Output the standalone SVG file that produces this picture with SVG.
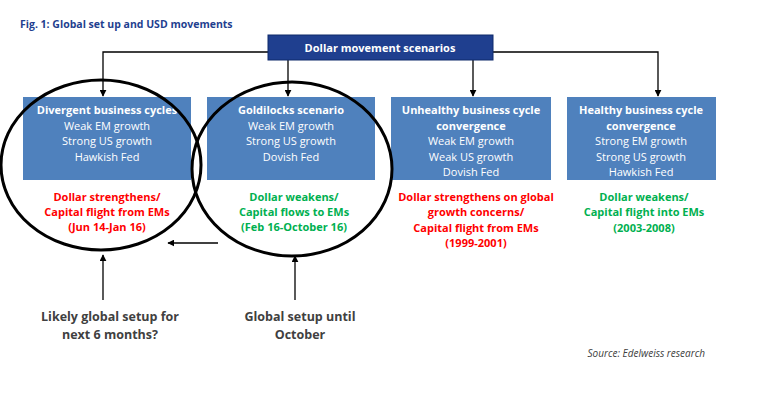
<svg xmlns="http://www.w3.org/2000/svg" width="758" height="416" viewBox="0 0 758 416">
<defs>
<marker id="ah" viewBox="0 0 10 10" refX="9" refY="5" markerWidth="7" markerHeight="7" markerUnits="userSpaceOnUse" orient="auto"><path d="M0,0 L10,5 L0,10 z" fill="#000"/></marker>
<style>
text{font-family:"Open Sans","Liberation Sans",sans-serif;text-anchor:middle;font-size:11px}
.box{fill:#4f81bd}
.wt{fill:#fff}
.b{font-weight:bold}
.red{fill:#ff0000;font-weight:bold}
.grn{fill:#00b050;font-weight:bold}
.gry{fill:#404040;font-weight:bold;font-size:12.5px}
.ln{stroke:#000;stroke-width:1.3;fill:none}
.ell{stroke:#000;stroke-width:3;fill:none}
</style>
</defs>
<rect width="758" height="416" fill="#fff"/>
<text x="20" y="28" style="text-anchor:start;font-weight:bold;fill:#1f3f8f;font-size:10.5px">Fig. 1: Global set up and USD movements</text>
<g id="connectors">
<path class="ln" d="M268,52 H103 V96" marker-end="url(#ah)"/>
<path class="ln" d="M288,60 V96" marker-end="url(#ah)"/>
<path class="ln" d="M473,60 V96" marker-end="url(#ah)"/>
<path class="ln" d="M493,52 H658 V96" marker-end="url(#ah)"/>
<path class="ln" d="M218,243 H168" marker-end="url(#ah)"/>
<path class="ln" d="M103,300 V255" marker-end="url(#ah)"/>
<path class="ln" d="M295,300 V256" marker-end="url(#ah)"/>
</g>
<g id="header">
<rect x="268" y="35" width="225" height="25" fill="#1f3f8f" stroke="#0f2a6a"/>
<text x="380" y="52" class="wt b">Dollar movement scenarios</text>
</g>
<g id="n1">
<rect class="box" x="23" y="97" width="168" height="83"/>
<text x="107" y="114" class="wt b">Divergent business cycles</text>
<text x="107" y="130" class="wt">Weak EM growth</text>
<text x="107" y="145" class="wt">Strong US growth</text>
<text x="107" y="161" class="wt">Hawkish Fed</text>
<text x="107" y="201" class="red">Dollar strengthens/</text>
<text x="107" y="216" class="red">Capital flight from EMs</text>
<text x="107" y="231" class="red">(Jun 14-Jan 16)</text>
</g>
<g id="n2">
<rect class="box" x="207" y="97" width="168" height="83"/>
<text x="291" y="114" class="wt b">Goldilocks scenario</text>
<text x="291" y="130" class="wt">Weak EM growth</text>
<text x="291" y="145" class="wt">Strong US growth</text>
<text x="291" y="161" class="wt">Dovish Fed</text>
<text x="294" y="201" class="grn">Dollar weakens/</text>
<text x="294" y="216" class="grn">Capital flows to EMs</text>
<text x="294" y="231" class="grn">(Feb 16-October 16)</text>
</g>
<g id="n3">
<rect class="box" x="391" y="97" width="160" height="83"/>
<text x="471" y="114" class="wt b">Unhealthy business cycle</text>
<text x="471" y="130" class="wt b">convergence</text>
<text x="471" y="145" class="wt">Weak EM growth</text>
<text x="471" y="161" class="wt">Weak US growth</text>
<text x="471" y="176" class="wt">Dovish Fed</text>
<text x="476" y="201" class="red">Dollar strengthens on global</text>
<text x="476" y="216" class="red">growth concerns/</text>
<text x="476" y="232" class="red">Capital flight from EMs</text>
<text x="476" y="247" class="red">(1999-2001)</text>
</g>
<g id="n4">
<rect class="box" x="567" y="97" width="149" height="83"/>
<text x="641" y="114" class="wt b">Healthy business cycle</text>
<text x="641" y="130" class="wt b">convergence</text>
<text x="641" y="145" class="wt">Strong EM growth</text>
<text x="641" y="161" class="wt">Strong US growth</text>
<text x="641" y="176" class="wt">Hawkish Fed</text>
<text x="644" y="201" class="grn">Dollar weakens/</text>
<text x="644" y="216" class="grn">Capital flight into EMs</text>
<text x="644" y="232" class="grn">(2003-2008)</text>
</g>
<g id="circles">
<ellipse class="ell" cx="101" cy="165" rx="100" ry="85"/>
<ellipse class="ell" cx="292" cy="169" rx="100" ry="87"/>
</g>
<g id="labels">
<text x="110" y="321" class="gry">Likely global setup for</text>
<text x="110" y="339" class="gry">next 6 months?</text>
<text x="300" y="321" class="gry">Global setup until</text>
<text x="300" y="339" class="gry">October</text>
<text x="705" y="357" style="text-anchor:end;font-style:italic;font-size:10px;fill:#404040">Source: Edelweiss research</text>
</g>
</svg>
